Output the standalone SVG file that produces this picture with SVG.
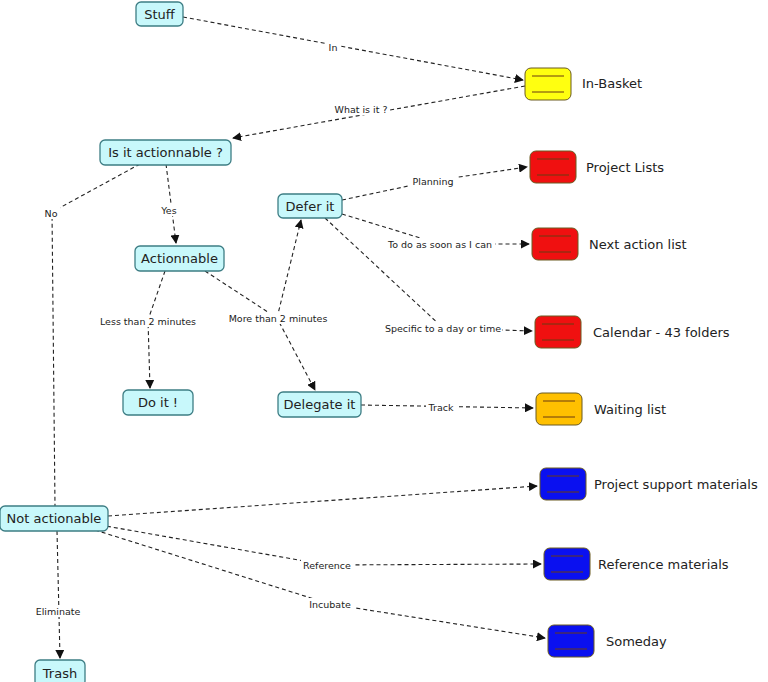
<svg xmlns="http://www.w3.org/2000/svg" width="768" height="682" viewBox="0 0 768 682">
<style>
.n rect{fill:#c8f8fb;stroke:#3d7d84;stroke-width:1.3}
.n text{font-family:Verdana,"DejaVu Sans",sans-serif;font-size:13px;fill:#222;text-anchor:middle}
.f rect.b{stroke:#6a5a20;stroke-width:1}
.f line{stroke:#6a3a10;stroke-width:1}
.f text{font-family:Verdana,"DejaVu Sans",sans-serif;font-size:13px;fill:#222}
.c path{fill:none;stroke:#222;stroke-width:1.1;stroke-dasharray:4 3}
.l{font-family:Verdana,"DejaVu Sans",sans-serif;font-size:9.5px;fill:#222;text-anchor:middle}
.lb{fill:#fff}
</style>
<defs><marker id="a" viewBox="0 0 10 10" refX="9" refY="5" markerWidth="9" markerHeight="9" orient="auto" markerUnits="userSpaceOnUse"><path d="M0,0L10,5L0,10z" fill="#111"/></marker></defs>
<rect width="768" height="682" fill="#fff"/>
<g id="connectors" class="c">
<path d="M183,17L523,80" marker-end="url(#a)"/>
<path d="M525,86L233,138" marker-end="url(#a)"/>
<path d="M140,164L52,212L55,506"/>
<path d="M166,164L176,243" marker-end="url(#a)"/>
<path d="M165,271L148,320L150,388" marker-end="url(#a)"/>
<path d="M205,271L277,318L315,390" marker-end="url(#a)"/>
<path d="M277,318L301,220" marker-end="url(#a)"/>
<path d="M342,200L432,181L527,167" marker-end="url(#a)"/>
<path d="M342,214L440,244L529,244" marker-end="url(#a)"/>
<path d="M325,218L443,328L532,331" marker-end="url(#a)"/>
<path d="M361,405L533,408" marker-end="url(#a)"/>
<path d="M108,516L537,486" marker-end="url(#a)"/>
<path d="M100,525L327,565L541,564" marker-end="url(#a)"/>
<path d="M95,530L330,604L545,638" marker-end="url(#a)"/>
<path d="M57,531L60,658" marker-end="url(#a)"/>
</g>
<g id="labels">
<rect class="lb" x="326" y="41" width="14" height="12"/><text class="l" x="333" y="51">In</text>
<rect class="lb" x="333" y="103" width="56" height="12"/><text class="l" x="361" y="113">What is it ?</text>
<rect class="lb" x="42" y="207" width="18" height="12"/><text class="l" x="51" y="217">No</text>
<rect class="lb" x="158" y="204" width="22" height="12"/><text class="l" x="169" y="214">Yes</text>
<rect class="lb" x="88" y="315" width="120" height="12"/><text class="l" x="148" y="325">Less than 2 minutes</text>
<rect class="lb" x="225" y="312" width="106" height="12"/><text class="l" x="278" y="322">More than 2 minutes</text>
<rect class="lb" x="410" y="175" width="46" height="12"/><text class="l" x="433" y="185">Planning</text>
<rect class="lb" x="385" y="238" width="110" height="12"/><text class="l" x="440" y="248">To do as soon as I can</text>
<rect class="lb" x="384" y="322" width="118" height="12"/><text class="l" x="443" y="332">Specific to a day or time</text>
<rect class="lb" x="426" y="401" width="30" height="12"/><text class="l" x="441" y="411">Track</text>
<rect class="lb" x="301" y="559" width="52" height="12"/><text class="l" x="327" y="569">Reference</text>
<rect class="lb" x="306" y="598" width="48" height="12"/><text class="l" x="330" y="608">Incubate</text>
<rect class="lb" x="33" y="605" width="50" height="12"/><text class="l" x="58" y="615">Eliminate</text>
</g>
<g id="stuff" class="n"><rect x="136" y="2" width="47" height="24" rx="5"/><text x="159.5" y="19">Stuff</text></g>
<g id="isit" class="n"><rect x="100" y="140" width="131" height="25" rx="5"/><text x="165.5" y="157">Is it actionnable ?</text></g>
<g id="actionnable" class="n"><rect x="135" y="246" width="89" height="25" rx="5"/><text x="179.5" y="263">Actionnable</text></g>
<g id="defer" class="n"><rect x="278" y="194" width="64" height="24" rx="5"/><text x="310" y="211">Defer it</text></g>
<g id="doit" class="n"><rect x="123" y="390" width="70" height="25" rx="5"/><text x="158" y="407">Do it !</text></g>
<g id="delegate" class="n"><rect x="278" y="392" width="83" height="25" rx="5"/><text x="319.5" y="409">Delegate it</text></g>
<g id="notact" class="n"><rect x="0" y="506" width="108" height="25" rx="5"/><text x="54" y="523">Not actionable</text></g>
<g id="trash" class="n"><rect x="35" y="660" width="50" height="26" rx="5"/><text x="60" y="678">Trash</text></g>
<g id="inbasket" class="f"><rect class="b" x="525" y="68" width="46" height="32" rx="6" fill="#ffff10"/><line x1="532" y1="76" x2="564" y2="76"/><line x1="532" y1="92" x2="564" y2="92"/><text x="582" y="88">In-Basket</text></g>
<g id="projlists" class="f"><rect class="b" x="530" y="151" width="46" height="32" rx="6" fill="#f01010"/><line x1="537" y1="159" x2="569" y2="159"/><line x1="537" y1="175" x2="569" y2="175"/><text x="586" y="172">Project Lists</text></g>
<g id="nextaction" class="f"><rect class="b" x="532" y="228" width="46" height="32" rx="6" fill="#f01010"/><line x1="539" y1="236" x2="571" y2="236"/><line x1="539" y1="252" x2="571" y2="252"/><text x="589" y="249">Next action list</text></g>
<g id="calendar" class="f"><rect class="b" x="535" y="316" width="46" height="32" rx="6" fill="#f01010"/><line x1="542" y1="324" x2="574" y2="324"/><line x1="542" y1="340" x2="574" y2="340"/><text x="593" y="337">Calendar - 43 folders</text></g>
<g id="waiting" class="f"><rect class="b" x="536" y="393" width="46" height="32" rx="6" fill="#ffc000"/><line x1="543" y1="401" x2="575" y2="401"/><line x1="543" y1="417" x2="575" y2="417"/><text x="594" y="414">Waiting list</text></g>
<g id="projsupport" class="f"><rect class="b" x="540" y="468" width="46" height="32" rx="6" fill="#0a10f0"/><line x1="547" y1="476" x2="579" y2="476"/><line x1="547" y1="492" x2="579" y2="492"/><text x="594" y="489">Project support materials</text></g>
<g id="refmat" class="f"><rect class="b" x="544" y="548" width="46" height="32" rx="6" fill="#0a10f0"/><line x1="551" y1="556" x2="583" y2="556"/><line x1="551" y1="572" x2="583" y2="572"/><text x="598" y="569">Reference materials</text></g>
<g id="someday" class="f"><rect class="b" x="548" y="625" width="46" height="32" rx="6" fill="#0a10f0"/><line x1="555" y1="633" x2="587" y2="633"/><line x1="555" y1="649" x2="587" y2="649"/><text x="606" y="646">Someday</text></g>
</svg>
